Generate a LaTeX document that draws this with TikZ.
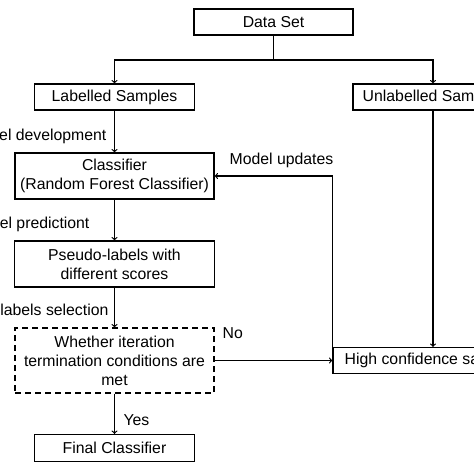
\documentclass[tikz,border=0pt]{standalone}
\usepackage{fontspec}
\setmainfont{Liberation Sans}
\begin{document}
\begin{tikzpicture}[x=1pt,y=-1pt,line width=1.2pt,
	box/.style={draw,inner sep=0pt,align=center,font=\fontsize{15.8}{19}\selectfont},
	lbl/.style={inner sep=0pt,font=\fontsize{15.8}{19}\selectfont}]
	\useasboundingbox (0,0) rectangle (474,474);
	\clip (0,0) rectangle (474,474);
	% boxes
	\node[box,minimum width=159,minimum height=26] (data) at (273.5,22) {Data Set};
	\node[box,minimum width=160,minimum height=26] (lab) at (114.5,97) {Labelled Samples};
	\node[box,minimum width=160,minimum height=26] (unl) at (433,97) {Unlabelled Samples};
	\node[box,minimum width=199,minimum height=46] (cls) at (114.5,176) {Classifier\\(Random Forest Classifier)};
	\node[box,minimum width=200,minimum height=46] (pse) at (114.5,264) {Pseudo-labels with\\different scores};
	\node[box,dash pattern=on 6pt off 4pt,minimum width=199,minimum height=65] (dec) at (114.5,360.5) {Whether iteration\\termination conditions are\\met};
	\node[box,minimum width=200,minimum height=26] (hc) at (433,360.5) {High confidence samples};
	\node[box,minimum width=160,minimum height=27] (fin) at (114.5,448) {Final Classifier};
	% labels
	\node[lbl,anchor=east] (ldev) at (107,136) {Model development};
	\node[lbl,anchor=east] (lpred) at (90,224) {Model predictiont};
	\node[lbl,anchor=east] (lsel) at (109,310) {Pseudo-labels selection};
	\node[lbl,anchor=west] (lupd) at (229,160) {Model updates};
	\node[lbl,anchor=west] (lno) at (222,333) {No};
	\node[lbl,anchor=west] (lyes) at (123,420) {Yes};
	% connectors
	\coordinate (split) at (273.5,60);
	\draw (data) -- (split);
	\draw[->] (split) -| (lab);
	\draw[->] (split) -| (unl);
	\draw[->] (lab) -- (cls);
	\draw[->] (cls) -- (pse);
	\draw[->] (pse) -- (dec);
	\draw[->] (dec) -- (fin);
	\draw[->] (unl) -- (hc);
	\draw[->] (dec) -- (hc);
	\draw[->] (hc.north west) |- (cls.east);
\end{tikzpicture}
\end{document}
